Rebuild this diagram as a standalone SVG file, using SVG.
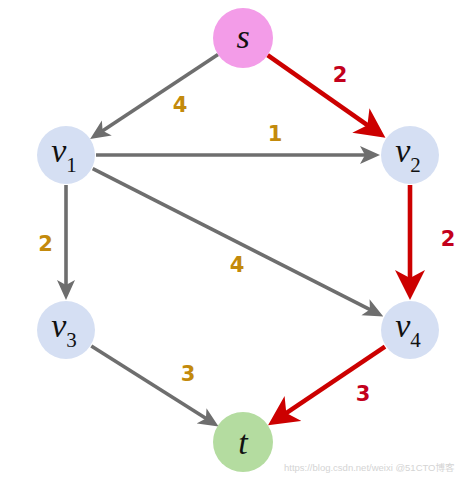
<svg xmlns="http://www.w3.org/2000/svg" width="474" height="480" viewBox="0 0 474 480">
<style>
.g{stroke:#6e6e6e;stroke-width:3.6;fill:none}
.r{stroke:#cc0000;stroke-width:4.6;fill:none}
.v{fill:#d5dff3}
.n{font-family:"Liberation Serif",serif;font-style:italic;font-size:34px;fill:#111}
.sub{font-style:normal;font-size:21px}
.lw{font-family:"DejaVu Sans",sans-serif;font-weight:bold;font-size:21px;text-anchor:middle;fill:#c38a0c}
.lr{font-family:"DejaVu Sans",sans-serif;font-weight:bold;font-size:21px;text-anchor:middle;fill:#c3001c}
.wm{font-family:"Liberation Sans","Noto Sans CJK SC",sans-serif;font-size:9.5px;fill:#d4d4d4}
</style>
<defs>
<marker id="ag" markerUnits="userSpaceOnUse" viewBox="0 0 20 20" markerWidth="20" markerHeight="20" refX="9" refY="10" orient="auto">
<path d="M0,1 L20,10 L0,19 L5,10 Z" fill="#6e6e6e"/>
</marker>
<marker id="ar" markerUnits="userSpaceOnUse" viewBox="0 0 30 30" markerWidth="30" markerHeight="30" refX="18" refY="15" orient="auto">
<path d="M0,0 L30,15 L0,30 L8,15 Z" fill="#cc0000"/>
</marker>
</defs>
<g id="connectors">
<line class="g" x1="218" y1="54.5" x2="99.3" y2="133" marker-end="url(#ag)"/>
<line class="r" x1="267.6" y1="55.2" x2="375.6" y2="130.9" marker-end="url(#ar)"/>
<line class="g" x1="96" y1="155" x2="369" y2="155" marker-end="url(#ag)"/>
<line class="g" x1="66" y1="185" x2="66" y2="289" marker-end="url(#ag)"/>
<line class="g" x1="92.7" y1="168.6" x2="373.5" y2="311.4" marker-end="url(#ag)"/>
<line class="r" x1="410" y1="185" x2="410" y2="288" marker-end="url(#ar)"/>
<line class="g" x1="91.3" y1="346" x2="209.3" y2="420.6" marker-end="url(#ag)"/>
<line class="r" x1="385" y1="346.7" x2="278" y2="418.6" marker-end="url(#ar)"/>
</g>
<g id="edge-labels">
<text class="lw" x="180" y="112">4</text>
<text class="lr" x="340" y="82">2</text>
<text class="lw" x="275" y="141">1</text>
<text class="lw" x="45.5" y="251">2</text>
<text class="lw" x="237" y="272">4</text>
<text class="lr" x="448" y="246">2</text>
<text class="lw" x="188" y="381">3</text>
<text class="lr" x="363" y="401">3</text>
</g>
<g id="s"><circle cx="243" cy="38" r="30" fill="#f39ce8"/><text class="n" x="243" y="48" text-anchor="middle" font-size="36">s</text></g>
<g id="v1"><circle class="v" cx="66" cy="155" r="29"/><text class="n" x="64" y="162" text-anchor="middle">v<tspan class="sub" dy="10">1</tspan></text></g>
<g id="v2"><circle class="v" cx="410" cy="155" r="29"/><text class="n" x="408" y="162" text-anchor="middle">v<tspan class="sub" dy="10">2</tspan></text></g>
<g id="v3"><circle class="v" cx="66" cy="330" r="29"/><text class="n" x="64" y="337" text-anchor="middle">v<tspan class="sub" dy="10">3</tspan></text></g>
<g id="v4"><circle class="v" cx="410" cy="330" r="29"/><text class="n" x="408" y="337" text-anchor="middle">v<tspan class="sub" dy="10">4</tspan></text></g>
<g id="t"><circle cx="243" cy="442" r="30" fill="#b4dca0"/><text class="n" x="243" y="454" text-anchor="middle">t</text></g>
<text class="wm" x="284" y="471">https://blog.csdn.net/weixi @51CTO博客</text>
</svg>
